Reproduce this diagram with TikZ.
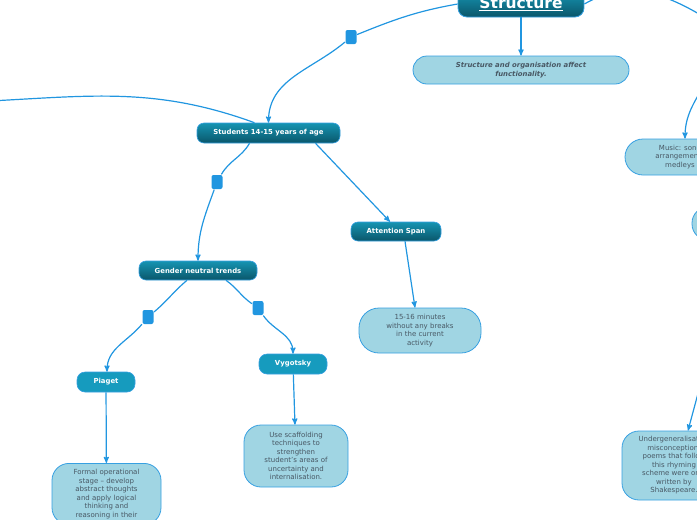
\documentclass[tikz,border=0pt]{standalone}
\usepackage{fontspec}
\setmainfont{DejaVu Sans}
\usepackage{tikz}
\usetikzlibrary{arrows}
\definecolor{edge_blue}{RGB}{33,150,224}
\definecolor{node_light}{RGB}{160,213,227}
\definecolor{line_light}{RGB}{55,160,225}
\definecolor{teal_top}{RGB}{22,148,178}
\definecolor{teal_bot}{RGB}{10,86,106}
\definecolor{teal_mid}{RGB}{22,155,190}
\definecolor{text_gray}{RGB}{72,88,100}

\begin{document}
\begin{tikzpicture}[->,line width=1.2pt,>=stealth',x=1pt,y=1pt]
    \tikzstyle{root}=[draw=line_light, line width=0.8pt, rounded corners=9pt, top color=teal_top, bottom color=teal_bot, text=white, font=\fontsize{15.5}{16}\selectfont\bfseries, minimum width=126pt, minimum height=26pt]
    \tikzstyle{topic}=[draw=line_light, line width=0.6pt, rounded corners=7pt, top color=teal_top, bottom color=teal_bot, text=white, font=\fontsize{6.9}{8}\selectfont\bfseries, minimum height=20pt]
    \tikzstyle{sub}=[draw=line_light, line width=0.6pt, rounded corners=8pt, fill=teal_mid, text=white, font=\fontsize{6.9}{8}\selectfont\bfseries, minimum height=20pt]
    \tikzstyle{leaf}=[draw=line_light, line width=0.8pt, rounded corners=17pt, fill=node_light, text=text_gray, font=\fontsize{7}{8.5}\selectfont, align=center, inner sep=4pt]
    \tikzstyle{knot}=[draw=none, fill=edge_blue, rounded corners=2pt, minimum width=11pt, minimum height=14pt, inner sep=0pt]

    \useasboundingbox (0,0) rectangle (697,-520);
    \clip (0,0) rectangle (697,-520);

    \node[root]  (st)  at (521,-4)     {\underline{Structure}};
    \node[leaf,font=\fontsize{6.9}{9.5}\selectfont\bfseries\itshape,minimum width=216pt,minimum height=28pt,rounded corners=14pt]
                 (org) at (521,-70)    {Structure and organisation affect\\functionality.};
    \node[topic,minimum width=143pt] (stu) at (268.5,-133) {Students 14-15 years of age};
    \node[topic,minimum width=118pt,minimum height=19pt] (gen) at (198,-270.5) {Gender neutral trends};
    \node[topic,minimum width=90pt,minimum height=19pt]  (att) at (396,-231.5) {Attention Span};
    \node[sub,minimum width=58pt]  (pia) at (106,-382) {Piaget};
    \node[sub,minimum width=68pt]  (vyg) at (293,-364) {Vygotsky};
    \node[leaf,minimum width=122pt,minimum height=45pt,rounded corners=20pt]
                 (min) at (420,-330.5) {15-16 minutes\\without any breaks\\in the current\\activity};
    \node[leaf,minimum width=104pt,minimum height=62pt]
                 (scaf) at (296,-456) {Use scaffolding\\techniques to\\strengthen\\student's areas of\\uncertainty and\\internalisation.};
    \node[leaf,anchor=north,minimum width=109pt,inner ysep=6pt]
                 (form) at (106.5,-463) {Formal operational\\stage – develop\\abstract thoughts\\and apply logical\\thinking and\\reasoning in their};
    \node[leaf,minimum width=110pt,minimum height=36pt,rounded corners=18pt]
                 (mus) at (680,-157) {Music: song\\arrangements\\medleys};
    \node[leaf,minimum width=106pt,minimum height=33pt,rounded corners=16pt] (rt) at (745,-223.5) {};
    \node[leaf,minimum width=104pt,minimum height=69pt]
                 (und) at (674,-465.5) {Undergeneralisation\\misconception:\\poems that follow\\this rhyming\\scheme were only\\written by\\Shakespeare.};

    \node[knot] (h1) at (351,-37)  {};
    \node[knot] (h2) at (217,-182) {};
    \node[knot] (h3) at (148,-317) {};
    \node[knot] (h4) at (258,-308) {};

    \coordinate (w1) at (-10,-101);
    \coordinate (e1) at (775,-62);
    \coordinate (e2) at (706,-82);
    \coordinate (e3) at (703,-375);

    \path
     (st.west) edge[-,edge_blue,out=190,in=22] (h1)
     (h1) edge[edge_blue,out=220,in=90] (stu.north)
     (w1) edge[-,edge_blue,out=3,in=160] ([xshift=-14pt]stu.north)
     (st.east) edge[-,edge_blue,out=30,in=150] (e1)
     (st) edge[edge_blue] (org)
     ([xshift=-19pt]stu.south) edge[-,edge_blue,out=240,in=60] (h2)
     (h2) edge[edge_blue,out=250,in=90] (gen.north)
     ([xshift=47pt]stu.south) edge[edge_blue] ([xshift=-6pt]att.north)
     ([xshift=9pt]att.south) edge[edge_blue] ([xshift=-5pt]min.north)
     ([xshift=-11pt]gen.south) edge[-,edge_blue,out=220,in=40] (h3)
     (h3) edge[edge_blue,out=230,in=90] ([xshift=1pt]pia.north)
     ([xshift=28pt]gen.south) edge[-,edge_blue,out=-35,in=145] (h4)
     (h4) edge[edge_blue,out=-55,in=90] (vyg.north)
     (pia) edge[edge_blue] (form)
     (vyg) edge[edge_blue] (scaf)
     (e2) edge[edge_blue,out=240,in=90] ([xshift=5pt]mus.north)
     (e3) edge[edge_blue] ([xshift=14pt]und.north)
     ;
\end{tikzpicture}
\end{document}
